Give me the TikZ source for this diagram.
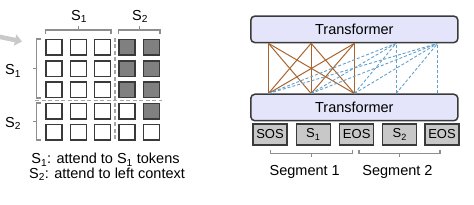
\documentclass[tikz,border=0pt]{standalone}
\usepackage{fontspec}
\setmainfont{Liberation Sans}
\usetikzlibrary{positioning,calc,arrows.meta}
\definecolor{Ink}{HTML}{3A3A3A}
\definecolor{Shade}{HTML}{808080}
\definecolor{Token}{HTML}{C8C8C8}
\definecolor{Lavender}{HTML}{E4E4FA}
\definecolor{Brace}{HTML}{8E8E8E}
\definecolor{Faint}{HTML}{C9C9C9}
\definecolor{Rust}{HTML}{A8642E}
\definecolor{Sky}{HTML}{629FCB}

\begin{document}
\begin{tikzpicture}[x=1pt,y=-1pt,
  cell/.style={draw=Ink,line width=1.5pt,minimum width=16pt,minimum height=15.5pt,inner sep=0pt},
  token/.style={draw=Ink,fill=Token,line width=1.3pt,minimum width=34pt,minimum height=21pt,inner sep=0pt,font=\fontsize{13}{15}\selectfont},
  layer/.style={draw=Ink,fill=Lavender,line width=1.5pt,rounded corners=4pt,minimum width=207pt,minimum height=26.5pt,font=\fontsize{14.5}{17}\selectfont},
  lbl/.style={inner sep=0pt,anchor=base,font=\fontsize{14.5}{16}\selectfont},
  brak/.style={draw=Brace,line width=1.3pt},
  sep/.style={draw=Brace!80,line width=1.2pt,dash pattern=on 4pt off 2.5pt},
  rust/.style={draw=Rust,line width=1pt},
  sky/.style={draw=Sky,line width=0.9pt,dash pattern=on 3pt off 2pt}]
  \useasboundingbox (0,0) rectangle (474,205);

  \foreach \r in {1,...,5}{
    \foreach \c in {1,...,5}{
      \pgfmathtruncatemacro\dark{(\c>3)&&(\c>\r)}
      \def\tone{white}
      \ifnum\dark=1 \def\tone{Shade}\fi
      \node[cell,fill=\tone] (m\r\c) at ({54+24.33*(\c-1)},{47.4+21.25*(\r-1)}) {};
    }
  }
  \draw[sep] (115,38) -- (115,141);
  \draw[sep] (35,100.4) -- (162,100.4);

  \draw[brak] (45.7,34) -- (45.7,30) -- (111,30) -- (111,34) (78.3,30) -- (78.3,26.5);
  \draw[brak] (118.7,34) -- (118.7,30) -- (160,30) -- (160,34) (139.4,30) -- (139.4,26.5);
  \draw[brak] (40.5,39) -- (36.7,39) -- (36.7,98) -- (40.5,98) (36.7,68.5) -- (33,68.5);
  \draw[brak] (40.5,103) -- (36.7,103) -- (36.7,140) -- (40.5,140) (36.7,121.5) -- (33,121.5);
  \node[lbl] (top1) at (79,20.7) {S\textsubscript{1}};
  \node[lbl] (top2) at (140,20.7) {S\textsubscript{2}};
  \node[lbl] (side1) at (13,75) {S\textsubscript{1}};
  \node[lbl] (side2) at (13,127.5) {S\textsubscript{2}};
  \draw[Faint,line width=4.5pt,-{Triangle[length=7pt,width=11pt]}] (-2,36.5) -- (22,41.5);

  \node[lbl] (note1) at (105.5,164) {S\textsubscript{1}: attend to S\textsubscript{1} tokens};
  \node[lbl] (note2) at (107,178.3) {S\textsubscript{2}: attend to left context};

  \node[layer] (upper) at (354.35,29.35) {Transformer};
  \node[layer] (lower) at (354.35,107.5) {Transformer};
  \foreach \i/\dx in {1/18.3,2/61,3/104.3,4/146,5/187.6}{
    \coordinate (u\i) at ([xshift=\dx pt]upper.south west);
    \coordinate (b\i) at ([xshift=\dx pt]lower.north west);
  }
  \foreach \i in {1,2,3}
    \foreach \j in {1,2,3}
      \draw[rust] (b\i) -- (u\j);
  \foreach \j in {4,5}
    \foreach \i in {1,...,\j}
      \draw[sky] (b\i) -- (u\j);

  \node[token] (sos) at (270,134.5) {SOS};
  \node[token] (s1) at (313.3,134.5) {S\textsubscript{1}};
  \node[token] (eos1) at (356.7,134.5) {EOS};
  \node[token] (s2) at (399.7,134.5) {S\textsubscript{2}};
  \node[token] (eos2) at (442,134.5) {EOS};

  \draw[brak] (270.7,150) -- (270.7,153.5) -- (352.3,153.5) -- (352.3,150) (311.5,153.5) -- (311.5,157);
  \draw[brak] (359,150) -- (359,153.5) -- (440,153.5) -- (440,150) (399.5,153.5) -- (399.5,157);
  \node[lbl] (seg1) at (304.7,176) {Segment 1};
  \node[lbl] (seg2) at (397.5,176) {Segment 2};
\end{tikzpicture}
\end{document}
